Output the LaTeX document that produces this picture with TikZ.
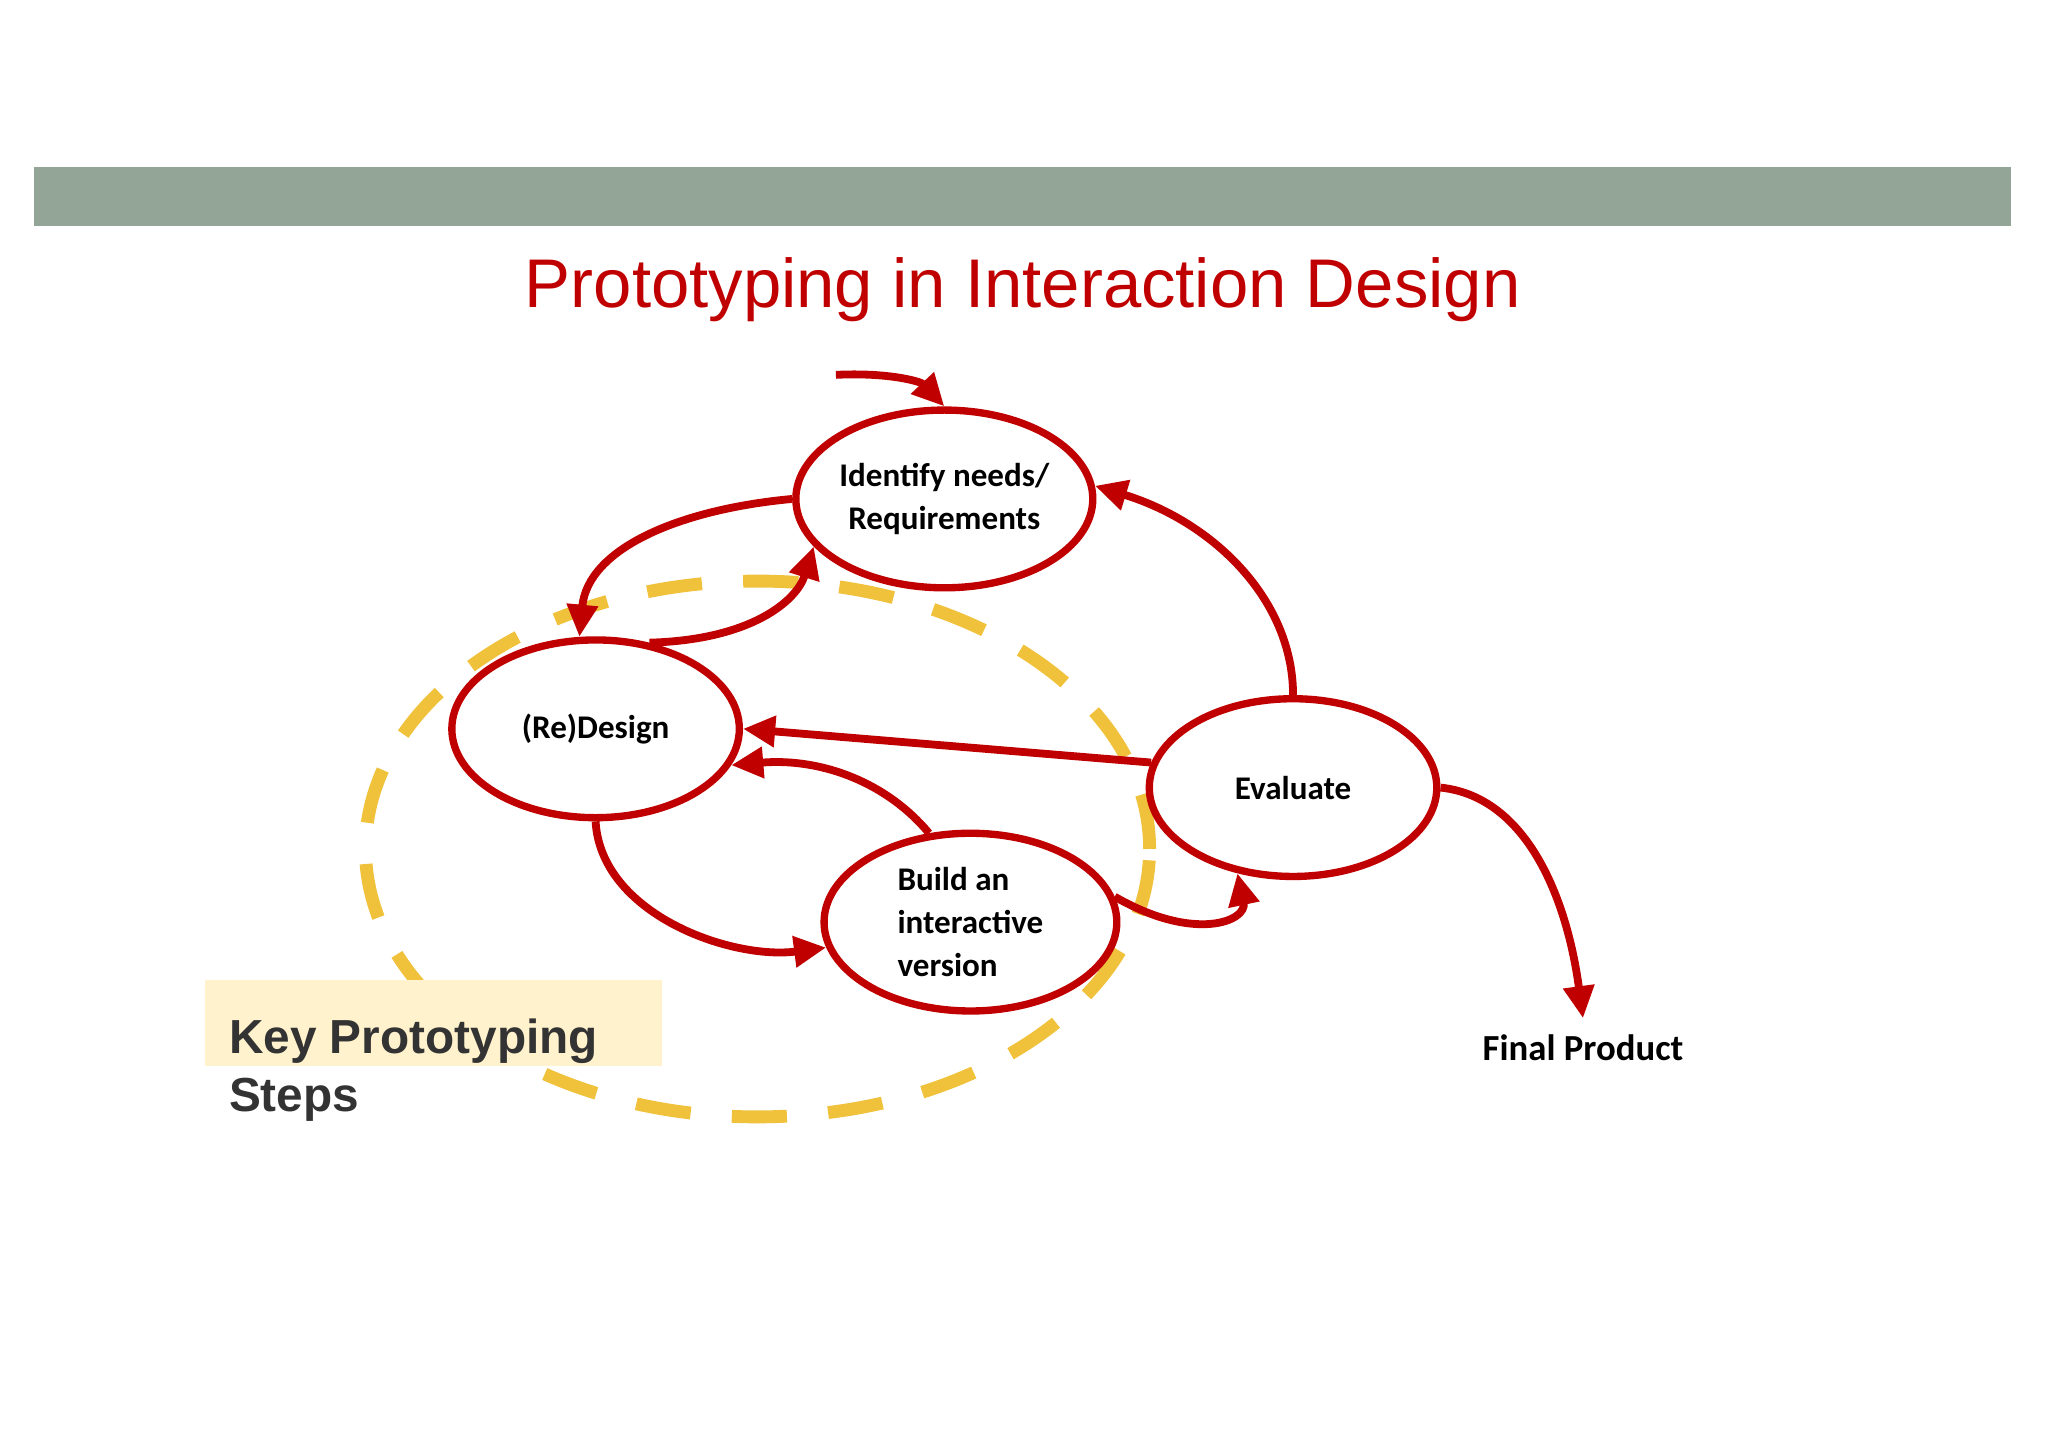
\documentclass[tikz,border=0pt]{standalone}
\usepackage{fontspec}
\setmainfont{Liberation Sans}
\newfontfamily\carl{Carlito}
\usetikzlibrary{arrows.meta,shapes.geometric}
\definecolor{dred}{HTML}{C00000}
\definecolor{bar}{HTML}{93A596}
\definecolor{gold}{HTML}{F0C23C}
\definecolor{keyfill}{HTML}{FFF2CC}
\begin{document}
\begin{tikzpicture}[x=0.01cm,y=-0.01cm,
  stage/.style={draw=dred,line width=1.6pt,ellipse,minimum width=2.2cm,minimum height=1.36cm,inner sep=0pt,font=\carl\bfseries\fontsize{7.2}{9.4}\selectfont,align=center},
  conn/.style={draw=dred,line width=1.7pt,-{Triangle[length=7pt,width=6.5pt]}}]
\useasboundingbox (0,0) rectangle (1568,1109);
\fill[bar] (26,128) rectangle (1540,173);
\node[text=dred,font=\fontsize{15}{18}\selectfont] (title) at (783,222) {Prototyping in Interaction Design};
\node[draw=gold,line width=2.8pt,dash pattern=on 12pt off 9pt,ellipse,minimum width=6cm,minimum height=4.1cm] (dash) at (580,650) {};
\fill[keyfill] (157,750) rectangle (507,816);
\node[anchor=north west,align=left,font=\bfseries\fontsize{10.4}{12.6}\selectfont,text=black!80] (key) at (163,768) {Key Prototyping\\Steps};
\node[stage] (id) at (723,382) {Identify needs/\\Requirements};
\node[stage] (re) at (456,558) {(Re)Design};
\node[stage] (ev) at (990,603) {Evaluate};
\node[stage,minimum width=2.24cm,align=left] (bu) at (743,706) {Build an\\interactive\\version};
\node[font=\carl\bfseries\fontsize{8}{10}\selectfont] (fp) at (1212,802) {Final Product};
\coordinate (start) at (640,287);
\draw[conn] (start) .. controls (680,285) and (705,292) .. (id.north);
\draw[conn] (id.west) .. controls (520,390) and (450,420) .. (re.100);
\draw[conn] (re.58) .. controls (575,490) and (610,460) .. (id.200);
\draw[conn] (ev.north) .. controls (990,460) and (930,400) .. (id.5);
\draw[conn] (ev.170) -- (re.east);
\draw[conn] (bu.115) .. controls (680,600) and (630,580) .. (re.345);
\draw[conn] (re.south) .. controls (460,700) and (560,735) .. (bu.190);
\draw[conn] (bu.10) .. controls (915,722) and (955,705) .. (ev.237);
\draw[conn] (ev.east) .. controls (1170,610) and (1200,690) .. (fp.north);
\end{tikzpicture}
\end{document}
